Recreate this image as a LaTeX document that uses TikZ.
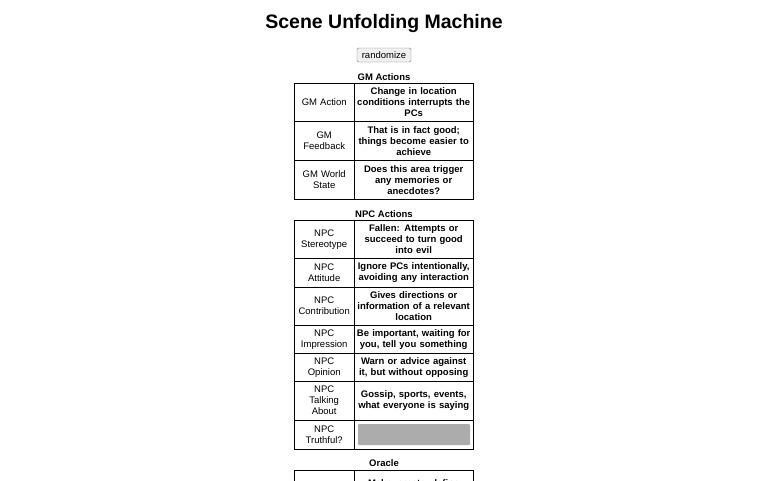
\documentclass[tikz,border=0pt]{standalone}
\usepackage{fontspec}
\setmainfont{Liberation Sans}
\tikzset{
  keycell/.style={draw,thin,anchor=north west,minimum width=60pt,text width=58pt,align=center,inner sep=1pt,font=\fontsize{9.5}{11}\selectfont},
  valcell/.style={draw,thin,anchor=north west,minimum width=119pt,text width=117pt,align=center,inner sep=1pt,font=\fontsize{9.5}{11}\selectfont\bfseries},
  caption/.style={font=\fontsize{9.5}{11}\selectfont\bfseries}
}
\begin{document}
\begin{tikzpicture}[x=1pt,y=-1pt]
\useasboundingbox (0,0) rectangle (768,480);
%% heading
\node[font=\fontsize{19.5}{22}\selectfont\bfseries] (title) at (384,23) {Scene Unfolding Machine};
\node[draw=gray,fill=gray!12,rounded corners=1.5pt,minimum width=54pt,minimum height=14pt,inner sep=1pt,font=\fontsize{9.5}{10}\selectfont] (rand) at (384,55) {randomize};
%%%%%%%%%%%%%%%%
%% GM Actions
%%%%%%%%%%%%%%%%
\node[caption] (gmcap) at (384,77) {GM Actions};
\node[keycell,minimum height=38pt] (gmA) at (294,83) {GM Action};
\node[valcell,minimum height=38pt] (gmAv) at (354,83) {Change in location\\conditions interrupts the\\PCs};
\node[keycell,minimum height=39pt] (gmF) at (294,121) {GM\\Feedback};
\node[valcell,minimum height=39pt] (gmFv) at (354,121) {That is in fact good;\\things become easier to\\achieve};
\node[keycell,minimum height=39pt] (gmW) at (294,160) {GM World\\State};
\node[valcell,minimum height=39pt] (gmWv) at (354,160) {Does this area trigger\\any memories or\\anecdotes?};
%%%%%%%%%%%%%%%%
%% NPC Actions
%%%%%%%%%%%%%%%%
\node[caption] (npccap) at (384,214) {NPC Actions};
\node[keycell,minimum height=38pt] (npcS) at (294,220) {NPC\\Stereotype};
\node[valcell,minimum height=38pt] (npcSv) at (354,220) {Fallen: Attempts or\\succeed to turn good\\into evil};
\node[keycell,minimum height=29pt] (npcA) at (294,258) {NPC\\Attitude};
\node[valcell,minimum height=29pt] (npcAv) at (354,258) {Ignore PCs intentionally,\\avoiding any interaction};
\node[keycell,minimum height=38pt] (npcC) at (294,287) {NPC\\Contribution};
\node[valcell,minimum height=38pt] (npcCv) at (354,287) {Gives directions or\\information of a relevant\\location};
\node[keycell,minimum height=28pt] (npcI) at (294,325) {NPC\\Impression};
\node[valcell,minimum height=28pt] (npcIv) at (354,325) {Be important, waiting for\\you, tell you something};
\node[keycell,minimum height=28pt] (npcO) at (294,353) {NPC\\Opinion};
\node[valcell,minimum height=28pt] (npcOv) at (354,353) {Warn or advice against\\it, but without opposing};
\node[keycell,minimum height=39pt] (npcT) at (294,381) {NPC\\Talking\\About};
\node[valcell,minimum height=39pt] (npcTv) at (354,381) {Gossip, sports, events,\\what everyone is saying};
\node[keycell,minimum height=29pt] (npcR) at (294,420) {NPC\\Truthful?};
\node[valcell,minimum height=29pt] (npcRv) at (354,420) {};
\fill[gray!65,rounded corners=1pt] (358,424) rectangle (470,445);
%%%%%%%%%%%%%%%%
%% Oracle
%%%%%%%%%%%%%%%%
\node[caption] (orcap) at (384,463) {Oracle};
\node[keycell,minimum height=38pt] (orA) at (294,470) {};
\node[valcell,minimum height=38pt] (orAv) at (354,470) {Make, create, define\\something};
\end{tikzpicture}
\end{document}
